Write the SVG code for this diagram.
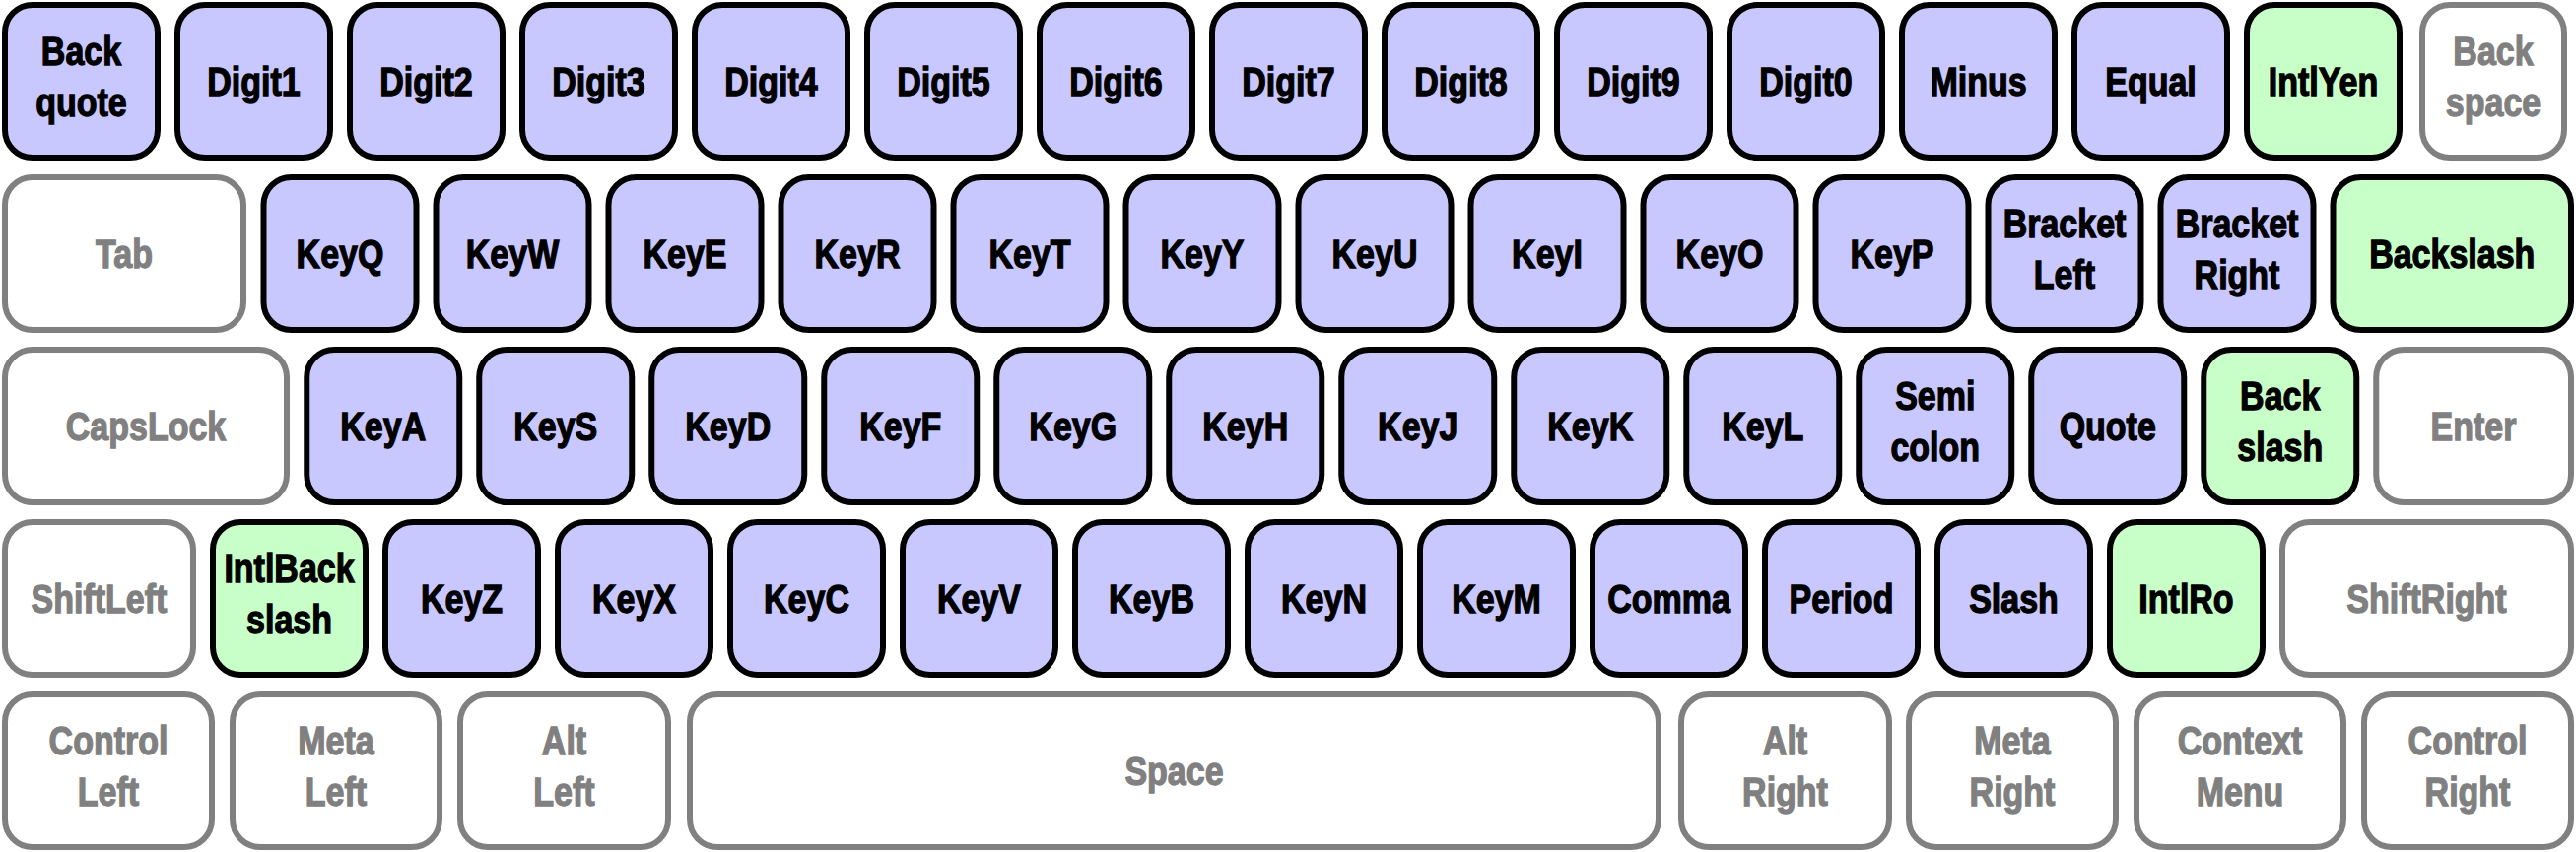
<svg xmlns="http://www.w3.org/2000/svg" width="2614" height="865" viewBox="0 0 2614 865">
<style>
rect{stroke-width:6}
.a rect{fill:#c8c8ff;stroke:#000}
.g rect{fill:#c8ffc8;stroke:#000}
.o rect{fill:#fff;stroke:#808080}
text{font-family:"Liberation Sans",Arial,sans-serif;font-weight:bold;font-size:40px;text-anchor:middle;stroke-width:1.3}
.a text,.g text{fill:#000;stroke:#000}
.o text{fill:#808080;stroke:#808080}
</style>
<rect width="2614" height="865" fill="#fff" style="stroke:none"/>
<g id="row1">
<g id="Backquote" class="a"><rect x="5" y="5" width="155" height="155" rx="28"/><text transform="translate(82.5 0) scale(.85 1)"><tspan x="0" y="66.5">Back</tspan><tspan x="0" y="118.5">quote</tspan></text></g>
<g id="Digit1" class="a"><rect x="180" y="5" width="155" height="155" rx="28"/><text transform="translate(257.5 96.5) scale(.85 1)">Digit1</text></g>
<g id="Digit2" class="a"><rect x="355" y="5" width="155" height="155" rx="28"/><text transform="translate(432.5 96.5) scale(.85 1)">Digit2</text></g>
<g id="Digit3" class="a"><rect x="530" y="5" width="155" height="155" rx="28"/><text transform="translate(607.5 96.5) scale(.85 1)">Digit3</text></g>
<g id="Digit4" class="a"><rect x="705" y="5" width="155" height="155" rx="28"/><text transform="translate(782.5 96.5) scale(.85 1)">Digit4</text></g>
<g id="Digit5" class="a"><rect x="880" y="5" width="155" height="155" rx="28"/><text transform="translate(957.5 96.5) scale(.85 1)">Digit5</text></g>
<g id="Digit6" class="a"><rect x="1055" y="5" width="155" height="155" rx="28"/><text transform="translate(1132.5 96.5) scale(.85 1)">Digit6</text></g>
<g id="Digit7" class="a"><rect x="1230" y="5" width="155" height="155" rx="28"/><text transform="translate(1307.5 96.5) scale(.85 1)">Digit7</text></g>
<g id="Digit8" class="a"><rect x="1405" y="5" width="155" height="155" rx="28"/><text transform="translate(1482.5 96.5) scale(.85 1)">Digit8</text></g>
<g id="Digit9" class="a"><rect x="1580" y="5" width="155" height="155" rx="28"/><text transform="translate(1657.5 96.5) scale(.85 1)">Digit9</text></g>
<g id="Digit0" class="a"><rect x="1755" y="5" width="155" height="155" rx="28"/><text transform="translate(1832.5 96.5) scale(.85 1)">Digit0</text></g>
<g id="Minus" class="a"><rect x="1930" y="5" width="155" height="155" rx="28"/><text transform="translate(2007.5 96.5) scale(.85 1)">Minus</text></g>
<g id="Equal" class="a"><rect x="2105" y="5" width="155" height="155" rx="28"/><text transform="translate(2182.5 96.5) scale(.85 1)">Equal</text></g>
<g id="IntlYen" class="g"><rect x="2280" y="5" width="155" height="155" rx="28"/><text transform="translate(2357.5 96.5) scale(.85 1)">IntlYen</text></g>
<g id="Backspace" class="o"><rect x="2458" y="5" width="144" height="155" rx="28"/><text transform="translate(2530 0) scale(.85 1)"><tspan x="0" y="66.5">Back</tspan><tspan x="0" y="118.5">space</tspan></text></g>
</g>
<g id="row2">
<g id="Tab" class="o"><rect x="5" y="180" width="242" height="155" rx="28"/><text transform="translate(126 271.5) scale(.85 1)">Tab</text></g>
<g id="KeyQ" class="a"><rect x="267.5" y="180" width="155" height="155" rx="28"/><text transform="translate(345 271.5) scale(.85 1)">KeyQ</text></g>
<g id="KeyW" class="a"><rect x="442.5" y="180" width="155" height="155" rx="28"/><text transform="translate(520 271.5) scale(.85 1)">KeyW</text></g>
<g id="KeyE" class="a"><rect x="617.5" y="180" width="155" height="155" rx="28"/><text transform="translate(695 271.5) scale(.85 1)">KeyE</text></g>
<g id="KeyR" class="a"><rect x="792.5" y="180" width="155" height="155" rx="28"/><text transform="translate(870 271.5) scale(.85 1)">KeyR</text></g>
<g id="KeyT" class="a"><rect x="967.5" y="180" width="155" height="155" rx="28"/><text transform="translate(1045 271.5) scale(.85 1)">KeyT</text></g>
<g id="KeyY" class="a"><rect x="1142.5" y="180" width="155" height="155" rx="28"/><text transform="translate(1220 271.5) scale(.85 1)">KeyY</text></g>
<g id="KeyU" class="a"><rect x="1317.5" y="180" width="155" height="155" rx="28"/><text transform="translate(1395 271.5) scale(.85 1)">KeyU</text></g>
<g id="KeyI" class="a"><rect x="1492.5" y="180" width="155" height="155" rx="28"/><text transform="translate(1570 271.5) scale(.85 1)">KeyI</text></g>
<g id="KeyO" class="a"><rect x="1667.5" y="180" width="155" height="155" rx="28"/><text transform="translate(1745 271.5) scale(.85 1)">KeyO</text></g>
<g id="KeyP" class="a"><rect x="1842.5" y="180" width="155" height="155" rx="28"/><text transform="translate(1920 271.5) scale(.85 1)">KeyP</text></g>
<g id="BracketLeft" class="a"><rect x="2017.5" y="180" width="155" height="155" rx="28"/><text transform="translate(2095 0) scale(.85 1)"><tspan x="0" y="241.5">Bracket</tspan><tspan x="0" y="293.5">Left</tspan></text></g>
<g id="BracketRight" class="a"><rect x="2192.5" y="180" width="155" height="155" rx="28"/><text transform="translate(2270 0) scale(.85 1)"><tspan x="0" y="241.5">Bracket</tspan><tspan x="0" y="293.5">Right</tspan></text></g>
<g id="Backslash" class="g"><rect x="2367.5" y="180" width="241.5" height="155" rx="28"/><text transform="translate(2488.25 271.5) scale(.85 1)">Backslash</text></g>
</g>
<g id="row3">
<g id="CapsLock" class="o"><rect x="5" y="355" width="286" height="155" rx="28"/><text transform="translate(148 446.5) scale(.85 1)">CapsLock</text></g>
<g id="KeyA" class="a"><rect x="311.25" y="355" width="155" height="155" rx="28"/><text transform="translate(388.75 446.5) scale(.85 1)">KeyA</text></g>
<g id="KeyS" class="a"><rect x="486.25" y="355" width="155" height="155" rx="28"/><text transform="translate(563.75 446.5) scale(.85 1)">KeyS</text></g>
<g id="KeyD" class="a"><rect x="661.25" y="355" width="155" height="155" rx="28"/><text transform="translate(738.75 446.5) scale(.85 1)">KeyD</text></g>
<g id="KeyF" class="a"><rect x="836.25" y="355" width="155" height="155" rx="28"/><text transform="translate(913.75 446.5) scale(.85 1)">KeyF</text></g>
<g id="KeyG" class="a"><rect x="1011.25" y="355" width="155" height="155" rx="28"/><text transform="translate(1088.75 446.5) scale(.85 1)">KeyG</text></g>
<g id="KeyH" class="a"><rect x="1186.25" y="355" width="155" height="155" rx="28"/><text transform="translate(1263.75 446.5) scale(.85 1)">KeyH</text></g>
<g id="KeyJ" class="a"><rect x="1361.25" y="355" width="155" height="155" rx="28"/><text transform="translate(1438.75 446.5) scale(.85 1)">KeyJ</text></g>
<g id="KeyK" class="a"><rect x="1536.25" y="355" width="155" height="155" rx="28"/><text transform="translate(1613.75 446.5) scale(.85 1)">KeyK</text></g>
<g id="KeyL" class="a"><rect x="1711.25" y="355" width="155" height="155" rx="28"/><text transform="translate(1788.75 446.5) scale(.85 1)">KeyL</text></g>
<g id="Semicolon" class="a"><rect x="1886.25" y="355" width="155" height="155" rx="28"/><text transform="translate(1963.75 0) scale(.85 1)"><tspan x="0" y="416.5">Semi</tspan><tspan x="0" y="468.5">colon</tspan></text></g>
<g id="Quote" class="a"><rect x="2061.25" y="355" width="155" height="155" rx="28"/><text transform="translate(2138.75 446.5) scale(.85 1)">Quote</text></g>
<g id="Backslash2" class="g"><rect x="2236.25" y="355" width="155" height="155" rx="28"/><text transform="translate(2313.75 0) scale(.85 1)"><tspan x="0" y="416.5">Back</tspan><tspan x="0" y="468.5">slash</tspan></text></g>
<g id="Enter" class="o"><rect x="2411.25" y="355" width="197.75" height="155" rx="28"/><text transform="translate(2510 446.5) scale(.85 1)">Enter</text></g>
</g>
<g id="row4">
<g id="ShiftLeft" class="o"><rect x="5" y="530" width="191" height="155" rx="28"/><text transform="translate(100.5 621.5) scale(.85 1)">ShiftLeft</text></g>
<g id="IntlBackslash" class="g"><rect x="216" y="530" width="155" height="155" rx="28"/><text transform="translate(293.5 0) scale(.85 1)"><tspan x="0" y="591.5">IntlBack</tspan><tspan x="0" y="643.5">slash</tspan></text></g>
<g id="KeyZ" class="a"><rect x="391" y="530" width="155" height="155" rx="28"/><text transform="translate(468.5 621.5) scale(.85 1)">KeyZ</text></g>
<g id="KeyX" class="a"><rect x="566" y="530" width="155" height="155" rx="28"/><text transform="translate(643.5 621.5) scale(.85 1)">KeyX</text></g>
<g id="KeyC" class="a"><rect x="741" y="530" width="155" height="155" rx="28"/><text transform="translate(818.5 621.5) scale(.85 1)">KeyC</text></g>
<g id="KeyV" class="a"><rect x="916" y="530" width="155" height="155" rx="28"/><text transform="translate(993.5 621.5) scale(.85 1)">KeyV</text></g>
<g id="KeyB" class="a"><rect x="1091" y="530" width="155" height="155" rx="28"/><text transform="translate(1168.5 621.5) scale(.85 1)">KeyB</text></g>
<g id="KeyN" class="a"><rect x="1266" y="530" width="155" height="155" rx="28"/><text transform="translate(1343.5 621.5) scale(.85 1)">KeyN</text></g>
<g id="KeyM" class="a"><rect x="1441" y="530" width="155" height="155" rx="28"/><text transform="translate(1518.5 621.5) scale(.85 1)">KeyM</text></g>
<g id="Comma" class="a"><rect x="1616" y="530" width="155" height="155" rx="28"/><text transform="translate(1693.5 621.5) scale(.85 1)">Comma</text></g>
<g id="Period" class="a"><rect x="1791" y="530" width="155" height="155" rx="28"/><text transform="translate(1868.5 621.5) scale(.85 1)">Period</text></g>
<g id="Slash" class="a"><rect x="1966" y="530" width="155" height="155" rx="28"/><text transform="translate(2043.5 621.5) scale(.85 1)">Slash</text></g>
<g id="IntlRo" class="g"><rect x="2141" y="530" width="155" height="155" rx="28"/><text transform="translate(2218.5 621.5) scale(.85 1)">IntlRo</text></g>
<g id="ShiftRight" class="o"><rect x="2316" y="530" width="293" height="155" rx="28"/><text transform="translate(2462.5 621.5) scale(.85 1)">ShiftRight</text></g>
</g>
<g id="row5">
<g id="ControlLeft" class="o"><rect x="5" y="705" width="210" height="155" rx="28"/><text transform="translate(110 0) scale(.85 1)"><tspan x="0" y="766.5">Control</tspan><tspan x="0" y="818.5">Left</tspan></text></g>
<g id="MetaLeft" class="o"><rect x="236" y="705" width="210" height="155" rx="28"/><text transform="translate(341 0) scale(.85 1)"><tspan x="0" y="766.5">Meta</tspan><tspan x="0" y="818.5">Left</tspan></text></g>
<g id="AltLeft" class="o"><rect x="467" y="705" width="211" height="155" rx="28"/><text transform="translate(572.5 0) scale(.85 1)"><tspan x="0" y="766.5">Alt</tspan><tspan x="0" y="818.5">Left</tspan></text></g>
<g id="Space" class="o"><rect x="700" y="705" width="983" height="155" rx="28"/><text transform="translate(1191.5 796.5) scale(.85 1)">Space</text></g>
<g id="AltRight" class="o"><rect x="1706" y="705" width="211" height="155" rx="28"/><text transform="translate(1811.5 0) scale(.85 1)"><tspan x="0" y="766.5">Alt</tspan><tspan x="0" y="818.5">Right</tspan></text></g>
<g id="MetaRight" class="o"><rect x="1937" y="705" width="210" height="155" rx="28"/><text transform="translate(2042 0) scale(.85 1)"><tspan x="0" y="766.5">Meta</tspan><tspan x="0" y="818.5">Right</tspan></text></g>
<g id="ContextMenu" class="o"><rect x="2168" y="705" width="210" height="155" rx="28"/><text transform="translate(2273 0) scale(.85 1)"><tspan x="0" y="766.5">Context</tspan><tspan x="0" y="818.5">Menu</tspan></text></g>
<g id="ControlRight" class="o"><rect x="2399" y="705" width="210" height="155" rx="28"/><text transform="translate(2504 0) scale(.85 1)"><tspan x="0" y="766.5">Control</tspan><tspan x="0" y="818.5">Right</tspan></text></g>
</g>
<g id="connectors"/>
</svg>
